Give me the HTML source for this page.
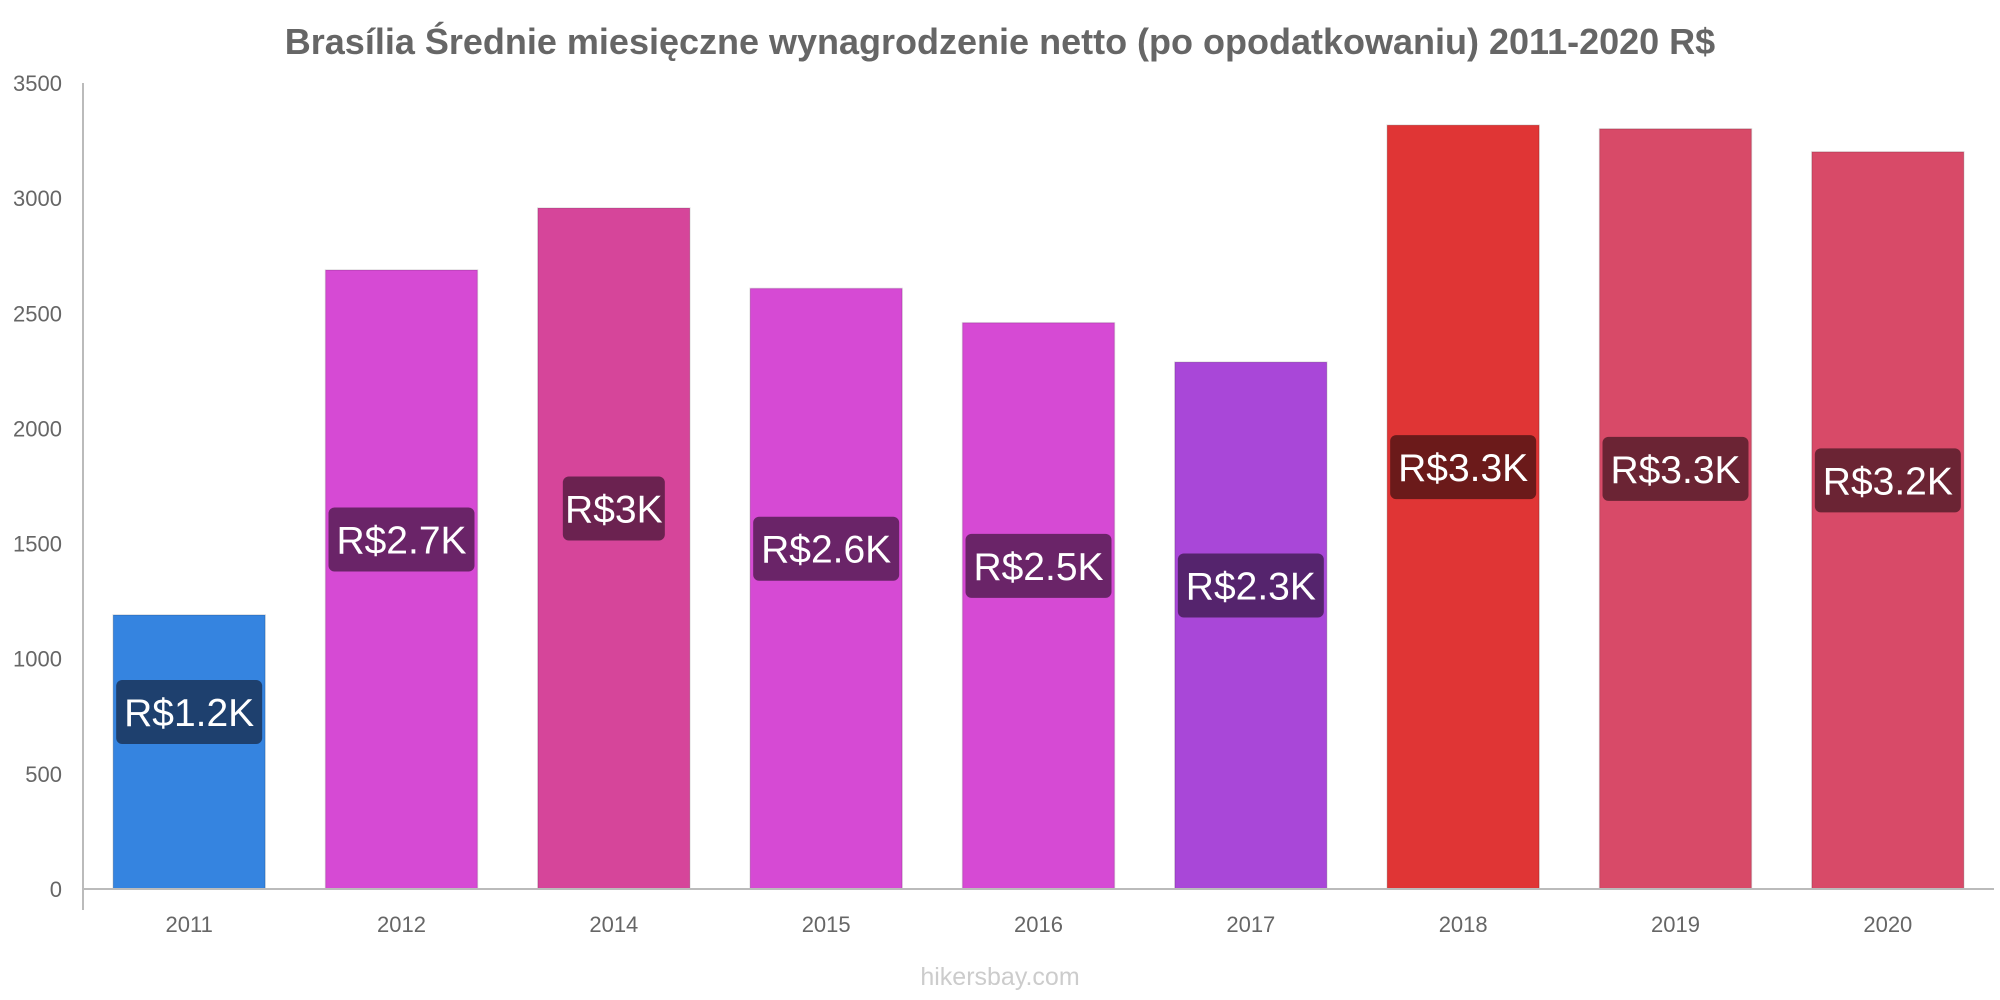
<!DOCTYPE html>
<html><head><meta charset="utf-8"><style>
body{margin:0;background:#fff;}
svg{display:block;font-family:"Liberation Sans",sans-serif;}
</style></head><body>
<svg id="chart" width="2000" height="1000">
<text x="1000" y="54" text-anchor="middle" font-size="36" font-weight="bold" fill="#666">Brasília Średnie miesięczne wynagrodzenie netto (po opodatkowaniu) 2011-2020 R$</text>
<g id="yaxis"></g>
<g id="bars"></g>
<g id="xaxis"></g>
<text x="1000" y="985" text-anchor="middle" font-size="25" fill="#ccc">hikersbay.com</text>
</svg>
<script>
const categories=["2011","2012","2014","2015","2016","2017","2018","2019","2020"];
const values=[1190,2688,2957,2608,2459,2288,3317,3301,3201];
const valueLabels=["R$1.2K","R$2.7K","R$3K","R$2.6K","R$2.5K","R$2.3K","R$3.3K","R$3.3K","R$3.2K"];
const yTicks=[0,500,1000,1500,2000,2500,3000,3500];
const barColors=["#3584e0","#d64ad4","#d6459a","#d64ad4","#d64ad4","#a947d8","#e03535","#d84a68","#d84a68"];
const labelColors=["#1e406e","#6a2468","#6b2250","#6a2468","#6a2468","#55246d","#6b1a1a","#6b2434","#6b2434"];
const NS="http://www.w3.org/2000/svg";
const x0=83,x1=1994,y0=889,yTop=83,yMax=3500;
const slot=(x1-x0)/categories.length,bw=152;
const y=v=>y0-(v/yMax)*(y0-yTop);
const xc=i=>x0+slot*(i+0.5);
function mk(t,a,p){const e=document.createElementNS(NS,t);for(const k in a)e.setAttribute(k,a[k]);p.appendChild(e);return e;}
const ya=document.getElementById('yaxis'),bg=document.getElementById('bars'),xa=document.getElementById('xaxis');
let l=mk('line',{x1:x0,y1:yTop,x2:x0,y2:910,stroke:'#bbb','stroke-width':2},ya);

yTicks.forEach(v=>{
 const t=mk('text',{x:62,y:y(v)+8,'text-anchor':'end','font-size':22,fill:'#666'},ya);
 t.textContent=v;
 
 
});
categories.forEach((c,i)=>{
 const r=mk('rect',{x:xc(i)-bw/2,y:y(values[i]),width:bw,height:y0-y(values[i]),fill:barColors[i],stroke:'rgba(0,0,0,0.12)','stroke-width':1.5},bg);
 
 
 const ly=(y0+y(values[i]))/2-40;
 const tw=valueLabels[i].length*22+14;
 const lb=mk('rect',{x:xc(i)-tw/2,y:ly-32,width:tw,height:64,rx:6,fill:labelColors[i]},bg);
 
 
 const t=mk('text',{x:xc(i),y:ly+14,'text-anchor':'middle','font-size':39,fill:'#fff'},bg);
 t.textContent=valueLabels[i];
 
 
 const xl=mk('text',{x:xc(i),y:932,'text-anchor':'middle','font-size':22,fill:'#666'},xa);
 xl.textContent=c;
 
 
});
l=mk('line',{x1:x0,y1:y0,x2:x1,y2:y0,stroke:'#bbb','stroke-width':2},xa);

</script>
</body></html>
